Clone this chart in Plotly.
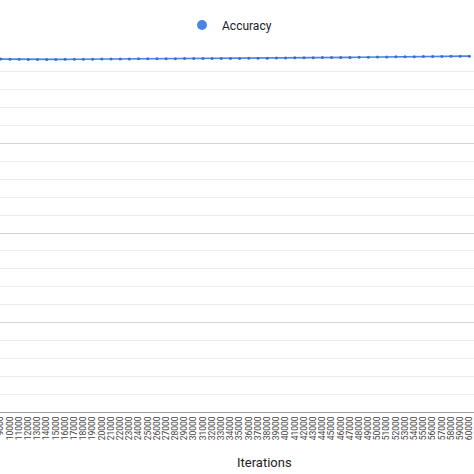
import plotly.graph_objects as go

iterations = [str(v) for v in range(9000, 61000, 1000)]
accuracy = [
    0.9858, 0.9855, 0.9850, 0.9845, 0.9843, 0.9845, 0.9848, 0.9850, 0.9852, 0.9853,
    0.9855, 0.9857, 0.9858, 0.9860, 0.9862, 0.9864, 0.9866, 0.9868, 0.9869, 0.9870,
    0.9871, 0.9872, 0.9873, 0.9873, 0.9872, 0.9874, 0.9876, 0.9878, 0.9880, 0.9883,
    0.9886, 0.9889, 0.9892, 0.9895, 0.9897, 0.9899, 0.9901, 0.9903, 0.9905, 0.9908,
    0.9911, 0.9914, 0.9917, 0.9920, 0.9923, 0.9926, 0.9929, 0.9931, 0.9933, 0.9935,
    0.9937, 0.9940,
]
series_name = "Accuracy"
x_title = "Iterations"

blue = "#4a84e8"
fig = go.Figure()
fig.add_trace(go.Scatter(
    x=iterations, y=accuracy, mode="lines+markers",
    line=dict(color=blue, width=1.6),
    marker=dict(color="#3d6fc4", size=3),
    showlegend=False, name=series_name,
))
fig.add_trace(go.Scatter(
    x=[None], y=[None], mode="markers", name=series_name,
    marker=dict(color=blue, size=10),
))

n = len(iterations)
fig.update_layout(
    width=474, height=474,
    margin=dict(l=0, r=0, t=54, b=62, autoexpand=False),
    paper_bgcolor="white", plot_bgcolor="white",
    font=dict(family="Roboto, Arial, sans-serif", color="#222"),
    showlegend=True,
    legend=dict(orientation="h", x=0.384, xanchor="left", y=1.081, yanchor="middle",
                font=dict(size=12, color="#222"), itemwidth=30),
    xaxis=dict(
        type="category", range=[-0.08, n - 0.5], automargin=False,
        tickmode="array", tickvals=iterations, ticktext=iterations,
        tickangle=-90, tickfont=dict(size=8.5, color="#444"),
        showgrid=False, showline=True, linecolor="#9e9e9e", linewidth=1,
        ticks="", zeroline=False,
    ),
    yaxis=dict(
        range=[0, 1], dtick=0.25, showticklabels=False, automargin=False,
        showgrid=True, gridcolor="#d4d4d4", gridwidth=1, zeroline=False,
        minor=dict(dtick=0.05, showgrid=True, gridcolor="#ececec", gridwidth=1),
    ),
    annotations=[dict(
        text=x_title, xref="paper", yref="paper", x=0.559, y=-0.14,
        xanchor="center", yanchor="middle", showarrow=False,
        font=dict(size=13, color="#222"),
    )],
)

fig.write_html(
    "out.html",
    config={"displayModeBar": False},
    post_script="document.body.style.margin='0';document.body.style.padding='0';",
)
